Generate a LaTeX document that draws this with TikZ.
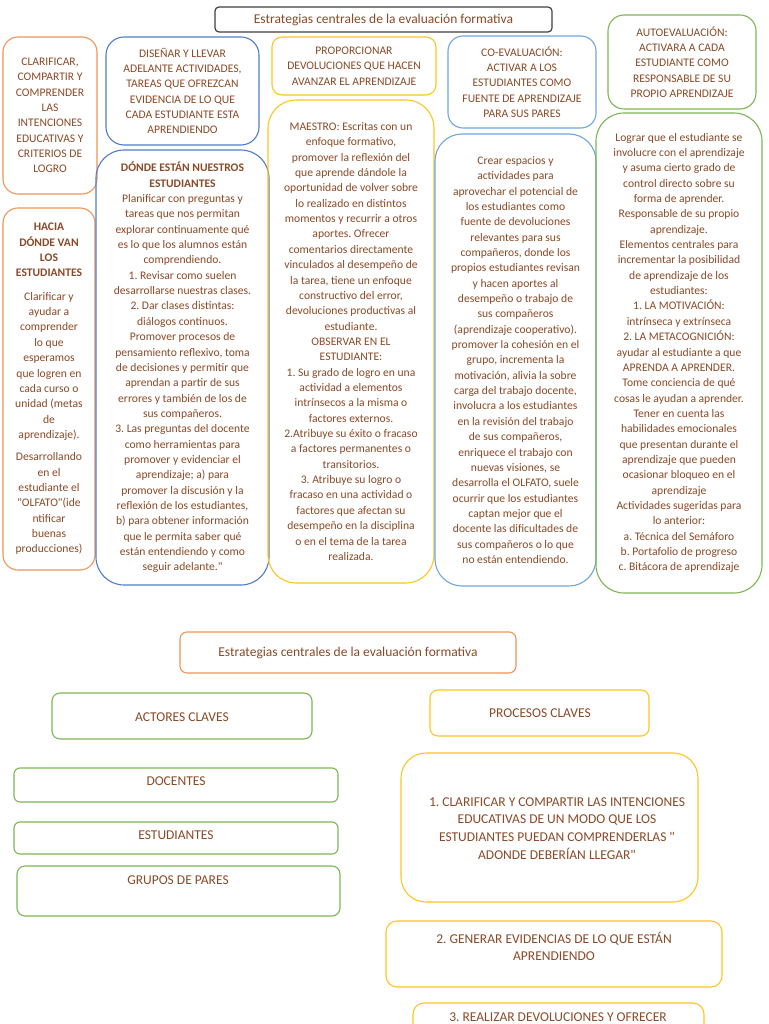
\documentclass[tikz,border=0pt]{standalone}
\usepackage{fontspec}
\setmainfont{Carlito}
\definecolor{txt}{HTML}{8A4A27}
\definecolor{orng}{HTML}{F19558}
\definecolor{blu}{HTML}{4F7DCC}
\definecolor{lblu}{HTML}{6FA6DC}
\definecolor{yel}{HTML}{FFC520}
\definecolor{grn}{HTML}{7DB654}
\definecolor{drk}{HTML}{404040}
\newcommand{\myfs}{\fontsize{11.6}{15.35}\selectfont\frenchspacing}
\newcommand{\bigfs}{\fontsize{13.5}{17.7}\selectfont\frenchspacing}
\newcommand{\q}{\textquotedbl}
\begin{document}
\begin{tikzpicture}[x=1pt,y=-1pt,
  bx/.style={draw, line width=1.1pt, inner sep=0pt, align=center, text=txt, font=\myfs},
  obox/.style={bx, draw=orng},
  bbox/.style={bx, draw=blu},
  lbbox/.style={bx, draw=lblu},
  ybox/.style={bx, draw=yel},
  gbox/.style={bx, draw=grn},
  tbox/.style={bx, draw=drk, line width=1.2pt},
  lbl/.style={inner sep=0pt, align=center, text=txt, font=\bigfs}]
\useasboundingbox (0,0) rectangle (768,1024);
\clip (0,0) rectangle (768,1024);
\fill[white] (0,0) rectangle (768,1024);

% ---------- top section ----------
\node[tbox, font=\bigfs, rounded corners=4pt, minimum width=337pt, minimum height=25pt] (title) at (383.5,19.5) {Estrategias centrales de la evaluación formativa};

\node[obox, rounded corners=15pt, minimum width=94pt, minimum height=157pt] (c1a) at (50,115.5)
 {CLARIFICAR,\\COMPARTIR Y\\COMPRENDER\\LAS\\INTENCIONES\\EDUCATIVAS Y\\CRITERIOS DE\\LOGRO};

\node[obox, rounded corners=15pt, minimum width=92pt, minimum height=362pt] (c1b) at (49,389)
 {\textbf{HACIA}\\\textbf{DÓNDE VAN}\\\textbf{LOS}\\\textbf{ESTUDIANTES}\\[8pt]
  Clarificar y\\ayudar a\\comprender\\lo que\\esperamos\\que logren en\\cada curso o\\unidad (metas\\de\\aprendizaje).\\[7pt]
  Desarrollando\\en el\\estudiante el\\\q OLFATO\q(ide\\ntificar\\buenas\\producciones)};

\node[bbox, rounded corners=18pt, minimum width=153pt, minimum height=108pt] (c2a) at (182.5,91)
 {DISEÑAR Y LLEVAR\\ADELANTE ACTIVIDADES,\\TAREAS QUE OFREZCAN\\EVIDENCIA DE LO QUE\\CADA ESTUDIANTE ESTA\\APRENDIENDO};

\node[bbox, rounded corners=28pt, minimum width=173pt, minimum height=435pt] (c2b) at (182.5,367.5)
 {\textbf{DÓNDE ESTÁN NUESTROS}\\\textbf{ESTUDIANTES}\\
  Planificar con preguntas y\\tareas que nos permitan\\explorar continuamente qué\\es lo que los alumnos están\\comprendiendo.\\
  1. Revisar como suelen\\desarrollarse nuestras clases.\\
  2. Dar clases distintas:\\diálogos continuos.\\
  Promover procesos de\\pensamiento reflexivo, toma\\de decisiones y permitir que\\aprendan a partir de sus\\errores y también de los de\\sus compañeros.\\
  3. Las preguntas del docente\\como herramientas para\\promover y evidenciar el\\aprendizaje; a) para\\promover la discusión y la\\reflexión de los estudiantes,\\b) para obtener información\\que le permita saber qué\\están entendiendo y como\\seguir adelante.\q};

\node[ybox, rounded corners=10pt, minimum width=164pt, minimum height=58pt] (c3a) at (354,66)
 {PROPORCIONAR\\DEVOLUCIONES QUE HACEN\\AVANZAR EL APRENDIZAJE};

\node[ybox, rounded corners=28pt, minimum width=166pt, minimum height=483pt] (c3b) at (351,341.5)
 {MAESTRO: Escritas con un\\enfoque formativo,\\promover la reflexión del\\que aprende dándole la\\oportunidad de volver sobre\\lo realizado en distintos\\momentos y recurrir a otros\\aportes. Ofrecer\\comentarios directamente\\vinculados al desempeño de\\la tarea, tiene un enfoque\\constructivo del error,\\devoluciones productivas al\\estudiante.\\
  OBSERVAR EN EL\\ESTUDIANTE:\\
  1. Su grado de logro en una\\actividad a elementos\\intrínsecos a la misma o\\factores externos.\\
  2.Atribuye su éxito o fracaso\\a factores permanentes o\\transitorios.\\
  3. Atribuye su logro o\\fracaso en una actividad o\\factores que afectan su\\desempeño en la disciplina\\o en el tema de la tarea\\realizada.};

\node[lbbox, rounded corners=15pt, minimum width=148pt, minimum height=92pt] (c4a) at (522,82)
 {CO-EVALUACIÓN:\\ACTIVAR A LOS\\ESTUDIANTES COMO\\FUENTE DE APRENDIZAJE\\PARA SUS PARES};

\node[lbbox, rounded corners=27pt, minimum width=161pt, minimum height=452pt] (c4b) at (515.5,360)
 {Crear espacios y\\actividades para\\aprovechar el potencial de\\los estudiantes como\\fuente de devoluciones\\relevantes para sus\\compañeros, donde los\\propios estudiantes revisan\\y hacen aportes al\\desempeño o trabajo de\\sus compañeros\\(aprendizaje cooperativo).\\promover la cohesión en el\\grupo, incrementa la\\motivación, alivia la sobre\\carga del trabajo docente,\\involucra a los estudiantes\\en la revisión del trabajo\\de sus compañeros,\\enriquece el trabajo con\\nuevas visiones, se\\desarrolla el OLFATO, suele\\ocurrir que los estudiantes\\captan mejor que el\\docente las dificultades de\\sus compañeros o lo que\\no están entendiendo.};

\node[gbox, rounded corners=16pt, minimum width=148pt, minimum height=94pt] (c5a) at (682,62)
 {AUTOEVALUACIÓN:\\ACTIVARA A CADA\\ESTUDIANTE COMO\\RESPONSABLE DE SU\\PROPIO APRENDIZAJE};

\node[gbox, rounded corners=28pt, minimum width=166pt, minimum height=480pt] (c5b) at (679,353)
 {Lograr que el estudiante se\\involucre con el aprendizaje\\y asuma cierto grado de\\control directo sobre su\\forma de aprender.\\Responsable de su propio\\aprendizaje.\\Elementos centrales para\\incrementar la posibilidad\\de aprendizaje de los\\estudiantes:\\1. LA MOTIVACIÓN:\\intrínseca y extrínseca\\2. LA METACOGNICIÓN:\\ayudar al estudiante a que\\APRENDA A APRENDER.\\Tome conciencia de qué\\cosas le ayudan a aprender.\\Tener en cuenta las\\habilidades emocionales\\que presentan durante el\\aprendizaje que pueden\\ocasionar bloqueo en el\\aprendizaje\\Actividades sugeridas para\\lo anterior:\\a. Técnica del Semáforo\\b. Portafolio de progreso\\c. Bitácora de aprendizaje};

% ---------- bottom section ----------
\node[obox, font=\bigfs, rounded corners=7pt, minimum width=336pt, minimum height=41pt] (t2) at (348,652.5)
 {Estrategias centrales de la evaluación formativa};

\node[gbox, rounded corners=8pt, minimum width=260pt, minimum height=46pt] (act) at (182,716) {};
\node[lbl] (actt) at (182,717.5) {ACTORES CLAVES};
\node[gbox, rounded corners=6pt, minimum width=324pt, minimum height=34pt] (doc) at (176,785) {};
\node[lbl] (doct) at (176,781) {DOCENTES};
\node[gbox, rounded corners=6pt, minimum width=324pt, minimum height=32pt] (est) at (176,838) {};
\node[lbl] (estt) at (176,835.5) {ESTUDIANTES};
\node[gbox, rounded corners=8pt, minimum width=323pt, minimum height=50pt] (gru) at (178.5,891) {};
\node[lbl] (grut) at (178,880) {GRUPOS DE PARES};

\node[ybox, rounded corners=8pt, minimum width=219pt, minimum height=46pt] (pro) at (539.5,713) {};
\node[lbl] (prot) at (540,713) {PROCESOS CLAVES};
\node[ybox, rounded corners=25pt, minimum width=297pt, minimum height=149pt] (p1) at (549.5,827.5) {};
\node[lbl] (p1t) at (557,828.5)
 {1. CLARIFICAR Y COMPARTIR LAS INTENCIONES\\EDUCATIVAS DE UN MODO QUE LOS\\ESTUDIANTES PUEDAN COMPRENDERLAS \q\\ADONDE DEBERÍAN LLEGAR\q};
\node[ybox, rounded corners=11pt, minimum width=336pt, minimum height=66pt] (p2) at (554,954) {};
\node[lbl, font=\fontsize{13.5}{17}\selectfont\frenchspacing] (p2t) at (554,946)
 {2. GENERAR EVIDENCIAS DE LO QUE ESTÁN\\APRENDIENDO};
\node[ybox, rounded corners=11pt, minimum width=291pt, minimum height=67pt] (p3) at (558.5,1036.5) {};
\node[lbl] (p3t) at (558,1017.5) {3. REALIZAR DEVOLUCIONES Y OFRECER};
\end{tikzpicture}
\end{document}
